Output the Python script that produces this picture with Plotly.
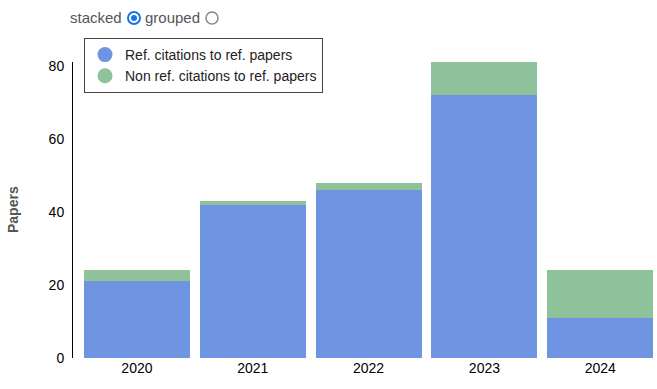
import plotly.graph_objects as go

years = ["2020", "2021", "2022", "2023", "2024"]
ref_citations = [21, 42, 46, 72, 11]
non_ref_citations = [3, 1, 2, 9, 13]
series_names = ["Ref. citations to ref. papers", "Non ref. citations to ref. papers"]
colors = ["#6f95e2", "#8fc19a"]

W, H = 657, 389
ml, mr, mt, mb = 73, 0, 62, 31
FONT = "Liberation Sans, Arial, Helvetica, sans-serif"

fig = go.Figure()
for name, vals, col in zip(series_names, [ref_citations, non_ref_citations], colors):
    fig.add_trace(go.Bar(x=years, y=vals, name=name, marker=dict(color=col, line=dict(width=0)),
                         showlegend=False))
# legend entries with circular markers
for name, col in zip(series_names, colors):
    fig.add_trace(go.Scatter(x=[None], y=[None], mode="markers", name=name,
                             marker=dict(color=col, size=15, symbol="circle")))

pw = W - ml - mr
ph = H - mt - mb

def px2paper_x(px):
    return (px - ml) / pw

def px2paper_y(py):
    return (H - mb - py) / ph

fig.update_layout(
    width=W, height=H,
    margin=dict(l=ml, r=mr, t=mt, b=mb, pad=0, autoexpand=False),
    barmode="stack", bargap=0.085,
    plot_bgcolor="white", paper_bgcolor="white",
    font=dict(family=FONT, size=14, color="#000"),
    xaxis=dict(range=[-0.552, 4.49], showline=False, ticks="", showgrid=False, zeroline=False,
               automargin=False, tickfont=dict(size=14, color="#000")),
    yaxis=dict(range=[0, 81], tickvals=[0, 20, 40, 60, 80], showline=True, linecolor="#000", linewidth=1,
               ticks="", showgrid=False, zeroline=False, tickfont=dict(size=14, color="#000"),
               automargin=False, ticklabelstandoff=5),
    legend=dict(x=px2paper_x(84), y=px2paper_y(38), xanchor="left", yanchor="top",
                bordercolor="#444", borderwidth=1, bgcolor="white", traceorder="normal",
                font=dict(size=14, color="#222"), itemsizing="trace", tracegroupgap=0),
    showlegend=True,
)

# y-axis title
fig.add_annotation(x=px2paper_x(13), y=px2paper_y(210), xref="paper", yref="paper", xanchor="center",
                   yanchor="middle", text="<b>Papers</b>", textangle=-90, showarrow=False,
                   font=dict(size=14, color="#555"))

# radio-button style header
fig.add_annotation(x=px2paper_x(68), y=px2paper_y(18), xref="paper", yref="paper", xanchor="left",
                   yanchor="middle", text="stacked", showarrow=False, font=dict(size=15, color="#555"))
fig.add_annotation(x=px2paper_x(143), y=px2paper_y(18), xref="paper", yref="paper", xanchor="left",
                   yanchor="middle", text="grouped", showarrow=False, font=dict(size=15, color="#555"))

def circle(cx, cy, r, **kw):
    fig.add_shape(type="circle", xref="paper", yref="paper",
                  x0=px2paper_x(cx - r), x1=px2paper_x(cx + r),
                  y0=px2paper_y(cy + r), y1=px2paper_y(cy - r), **kw)

circle(134, 18, 6, line=dict(color="#1a73e8", width=2), fillcolor="white")
circle(134, 18, 3, line=dict(width=0), fillcolor="#1a73e8")
circle(212, 18, 6, line=dict(color="#888", width=1.5), fillcolor="white")

fig.write_html("out.html", config={"displayModeBar": False},
               post_script="document.body.style.margin='0';document.body.style.overflow='hidden';")
